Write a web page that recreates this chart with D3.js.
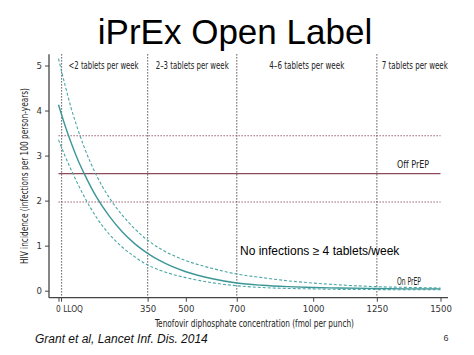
<!DOCTYPE html>
<html>
<head>
<meta charset="utf-8">
<script src="https://cdn.jsdelivr.net/npm/d3@7"></script>
<style>
  html, body { margin: 0; padding: 0; background: #fff; }
  svg { display: block; }
  .narrow { font-family: "Liberation Sans Narrow", "DejaVu Sans Condensed", "Liberation Sans", sans-serif; }
</style>
</head>
<body>
<svg id="chart" width="474" height="355"></svg>
<script>
// ---- data ----
const conc      = [0, 25, 50, 75, 100, 150, 200, 250, 300, 350, 400, 500, 600, 700, 800, 900, 1000, 1100, 1250, 1400, 1500];
const onPrEP    = [4.13, 3.68, 3.28, 2.92, 2.61, 2.07, 1.65, 1.31, 1.04, 0.83, 0.66, 0.42, 0.27, 0.17, 0.12, 0.09, 0.07, 0.06, 0.05, 0.04, 0.04];
const onPrEPHi  = [5.15, 4.58, 4.05, 3.6, 3.2, 2.55, 2.06, 1.68, 1.37, 1.12, 0.93, 0.67, 0.5, 0.37, 0.29, 0.22, 0.17, 0.13, 0.09, 0.07, 0.06];
const onPrEPLo  = [3.35, 3.0, 2.68, 2.38, 2.1, 1.62, 1.25, 0.97, 0.75, 0.57, 0.45, 0.29, 0.18, 0.11, 0.07, 0.05, 0.04, 0.03, 0.025, 0.02, 0.02];
const offPrEP   = [2.6];          // estimate
const offPrEPCI = [1.97, 3.44];   // lower, upper
const offRange  = [0, 1500];
const lloq      = 12;
const bandEdges = [lloq, 350, 700, 1250];
const bandLabels = ["<2 tablets per week", "2\u20133 tablets per week", "4\u20136 tablets per week", "7 tablets per week"];
const bandLabelAt = [lloq, 350, 700, 1250, 1500];
const xTicks    = [0, 350, 500, 700, 1000, 1250, 1500];
const xTickLabels = ["0 LLOQ", "350", "500", "700", "1000", "1250", "1500"];
const yTicks    = [0, 1, 2, 3, 4, 5];

const svg = d3.select("#chart");

const x = d3.scaleLinear().domain([0, 1500]).range([58.5, 440.5]);
const y = d3.scaleLinear().domain([0, 5]).range([290.7, 65.5]);
const yTop = 5.25;
const axisY = 297.7;
const axisX = 49;

// title
svg.append("text").attr("x", 235).attr("y", 44).attr("text-anchor", "middle")
  .attr("font-family", "Liberation Sans, Arial, sans-serif").attr("font-size", 35)
  .attr("fill", "#000").text("iPrEx Open Label");

// vertical dotted band edges
svg.append("g").selectAll("line").data(bandEdges).join("line")
  .attr("x1", d => x(d)).attr("x2", d => x(d))
  .attr("y1", y(yTop)).attr("y2", axisY)
  .attr("stroke", "#555").attr("stroke-width", 1.2).attr("stroke-dasharray", "1.3,1.7");

// band labels (condensed to the reference widths)
const bandW = [70, 73, 75, 66];
const gl = svg.append("g").attr("class", "narrow").attr("font-size", 10.5).attr("fill", "#222");
bandLabels.forEach((t, i) => {
  const tx = gl.append("text").attr("y", 68.5).attr("textLength", bandW[i]).attr("lengthAdjust", "spacingAndGlyphs");
  if (i === 0) {
    tx.attr("x", x(bandLabelAt[i]) + 7).attr("text-anchor", "start");
  } else if (i < 3) {
    tx.attr("x", (x(bandLabelAt[i]) + x(bandLabelAt[i + 1])) / 2 - bandW[i] / 2).attr("text-anchor", "start");
  } else {
    tx.attr("x", x(bandLabelAt[i]) + 5).attr("text-anchor", "start");
  }
  tx.text(t);
});

// Off PrEP lines
const red = "#8c4b5a";
offPrEPCI.forEach(v => {
  svg.append("line").attr("x1", x(offRange[0])).attr("x2", x(offRange[1]))
    .attr("y1", y(v)).attr("y2", y(v))
    .attr("stroke", red).attr("stroke-width", 1.1).attr("stroke-dasharray", "1.3,1.7");
});
svg.append("line").attr("x1", x(offRange[0])).attr("x2", x(offRange[1]))
  .attr("y1", y(offPrEP[0])).attr("y2", y(offPrEP[0]))
  .attr("stroke", red).attr("stroke-width", 1.3);

// On PrEP curves
const line = d3.line().x((d, i) => x(conc[i])).y(d => y(d)).curve(d3.curveMonotoneX);
svg.append("path").attr("d", line(onPrEPHi)).attr("fill", "none")
  .attr("stroke", "#4ba6a6").attr("stroke-width", 1.1).attr("stroke-dasharray", "3,2");
svg.append("path").attr("d", line(onPrEPLo)).attr("fill", "none")
  .attr("stroke", "#4ba6a6").attr("stroke-width", 1.1).attr("stroke-dasharray", "3,2");
svg.append("path").attr("d", line(onPrEP)).attr("fill", "none")
  .attr("stroke", "#3d9696").attr("stroke-width", 1.4);

// labels
svg.append("text").attr("class", "narrow").attr("x", 397).attr("y", 168)
  .attr("font-size", 10).attr("fill", "#222")
  .attr("textLength", 32).attr("lengthAdjust", "spacingAndGlyphs").text("Off PrEP");
svg.append("text").attr("class", "narrow").attr("x", 397).attr("y", 284.5)
  .attr("font-size", 10).attr("fill", "#222")
  .attr("textLength", 24).attr("lengthAdjust", "spacingAndGlyphs").text("On PrEP");
svg.append("text").attr("x", 240).attr("y", 254.5)
  .attr("font-family", "Liberation Sans, Arial, sans-serif").attr("font-size", 12)
  .attr("fill", "#000").text("No infections \u2265 4 tablets/week");

// axes
const yAxis = d3.axisLeft(y).tickValues(yTicks).tickFormat(d3.format("d")).tickSize(4).tickPadding(3);
const gy = svg.append("g").attr("transform", `translate(${axisX},0)`).call(yAxis);
gy.select(".domain").remove();
gy.append("line").attr("x1", 0).attr("x2", 0).attr("y1", y(yTop)).attr("y2", axisY)
  .attr("stroke", "#444").attr("stroke-width", 1.3);

const xAxis = d3.axisBottom(x).tickValues(xTicks).tickFormat((d, i) => xTickLabels[i]).tickSize(4).tickPadding(4);
const gx = svg.append("g").attr("transform", `translate(0,${axisY})`).call(xAxis);
gx.select(".domain").remove();
gx.append("line").attr("x1", axisX).attr("x2", 448).attr("y1", 0).attr("y2", 0)
  .attr("stroke", "#444").attr("stroke-width", 1.3);
// LLOQ second tick
gx.append("line").attr("x1", x(lloq)).attr("x2", x(lloq)).attr("y1", 0).attr("y2", 4)
  .attr("stroke", "#444");

[gx, gy].forEach(g => {
  g.selectAll(".tick line").attr("stroke", "#444");
  g.selectAll(".tick text").attr("class", "narrow").attr("font-size", 9.5).attr("fill", "#333");
  g.attr("font-family", null).attr("font-size", null);
});
gx.selectAll(".tick text").filter((d, i) => i === 0).attr("text-anchor", "start").attr("dx", -3)
  .attr("textLength", 27).attr("lengthAdjust", "spacingAndGlyphs");

// axis titles
svg.append("text").attr("class", "narrow").attr("x", 155).attr("y", 327)
  .attr("font-size", 10).attr("fill", "#222")
  .attr("textLength", 199).attr("lengthAdjust", "spacingAndGlyphs")
  .text("Tenofovir diphosphate concentration (fmol per punch)");
svg.append("text").attr("class", "narrow")
  .attr("transform", "translate(28,264) rotate(-90)")
  .attr("font-size", 10).attr("fill", "#222")
  .attr("textLength", 176).attr("lengthAdjust", "spacingAndGlyphs")
  .text("HIV incidence (infections per 100 person-years)");

// citation & page number
svg.append("text").attr("x", 35).attr("y", 342.5)
  .attr("font-family", "Liberation Sans, Arial, sans-serif").attr("font-style", "italic")
  .attr("font-size", 12).attr("fill", "#111").text("Grant et al, Lancet Inf. Dis. 2014");
svg.append("text").attr("x", 446).attr("y", 341).attr("text-anchor", "middle")
  .attr("font-family", "Liberation Sans, Arial, sans-serif")
  .attr("font-size", 9).attr("fill", "#333").text("6");
</script>
</body>
</html>
